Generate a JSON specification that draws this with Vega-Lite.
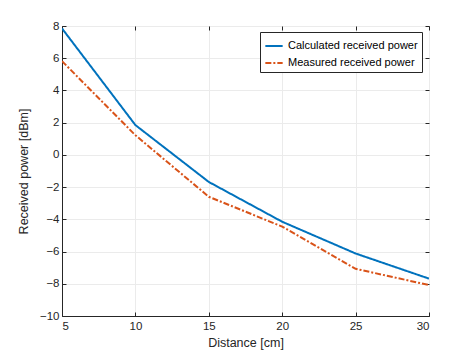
{
  "$schema": "https://vega.github.io/schema/vega-lite/v6.json",
  "width": 367,
  "height": 290,
  "autosize": {"type": "none"},
  "padding": {"left": 62, "top": 26, "right": 45, "bottom": 39},
  "background": "white",
  "config": {
    "font": "Liberation Sans",
    "view": {"stroke": "#262626", "strokeWidth": 1},
    "axis": {
      "labelFont": "Liberation Sans",
      "titleFont": "Liberation Sans",
      "labelFontSize": 11.5,
      "titleFontSize": 12.5,
      "labelColor": "#262626",
      "titleColor": "#262626",
      "titleFontWeight": "normal",
      "gridColor": "#ebebeb",
      "gridWidth": 1,
      "domainColor": "#262626",
      "tickColor": "#262626",
      "tickSize": -4
    }
  },
  "data": {
    "values": [
      {"distance": 5, "power": 7.85, "series": "Calculated received power"},
      {"distance": 10, "power": 1.85, "series": "Calculated received power"},
      {"distance": 15, "power": -1.68, "series": "Calculated received power"},
      {"distance": 20, "power": -4.15, "series": "Calculated received power"},
      {"distance": 25, "power": -6.12, "series": "Calculated received power"},
      {"distance": 30, "power": -7.68, "series": "Calculated received power"},
      {"distance": 5, "power": 5.82, "series": "Measured received power"},
      {"distance": 10, "power": 1.22, "series": "Measured received power"},
      {"distance": 15, "power": -2.6, "series": "Measured received power"},
      {"distance": 20, "power": -4.45, "series": "Measured received power"},
      {"distance": 25, "power": -7.07, "series": "Measured received power"},
      {"distance": 30, "power": -8.08, "series": "Measured received power"}
    ]
  },
  "layer": [
    {
      "mark": {"type": "line", "strokeWidth": 2, "clip": true},
      "encoding": {
        "x": {
          "field": "distance",
          "type": "quantitative",
          "scale": {"domain": [5, 30], "nice": false},
          "axis": {"values": [5, 10, 15, 20, 25, 30], "title": "Distance [cm]", "labelPadding": 8, "titlePadding": 5}
        },
        "y": {
          "field": "power",
          "type": "quantitative",
          "scale": {"domain": [-10, 8], "nice": false},
          "axis": {"values": [-10, -8, -6, -4, -2, 0, 2, 4, 6, 8], "title": "Received power [dBm]", "labelPadding": 7, "titlePadding": 9}
        },
        "color": {
          "field": "series",
          "type": "nominal",
          "scale": {
            "domain": ["Calculated received power", "Measured received power"],
            "range": ["#0072BD", "#D95319"]
          },
          "legend": {
            "title": null,
            "orient": "none",
            "legendX": 198,
            "legendY": 6,
            "symbolType": "stroke",
            "symbolSize": 300,
            "symbolStrokeWidth": 2,
            "labelFontSize": 11,
            "labelColor": "#000000",
            "labelFont": "Liberation Sans",
            "fillColor": "white",
            "strokeColor": "#262626",
            "padding": 4,
            "rowPadding": 2
          }
        },
        "strokeDash": {
          "field": "series",
          "type": "nominal",
          "scale": {
            "domain": ["Calculated received power", "Measured received power"],
            "range": [[1, 0], [6, 2, 2, 2]]
          },
          "legend": null
        }
      }
    },
    {
      "mark": {"type": "point", "opacity": 0},
      "encoding": {
        "x": {
          "field": "distance",
          "type": "quantitative",
          "scale": {"domain": [5, 30], "nice": false},
          "axis": {"orient": "top", "values": [5, 10, 15, 20, 25, 30], "labels": false, "grid": false, "domain": false, "title": null}
        },
        "y": {
          "field": "power",
          "type": "quantitative",
          "scale": {"domain": [-10, 8], "nice": false},
          "axis": {"orient": "right", "values": [-10, -8, -6, -4, -2, 0, 2, 4, 6, 8], "labels": false, "grid": false, "domain": false, "title": null}
        }
      }
    }
  ],
  "resolve": {"axis": {"x": "independent", "y": "independent"}}
}
